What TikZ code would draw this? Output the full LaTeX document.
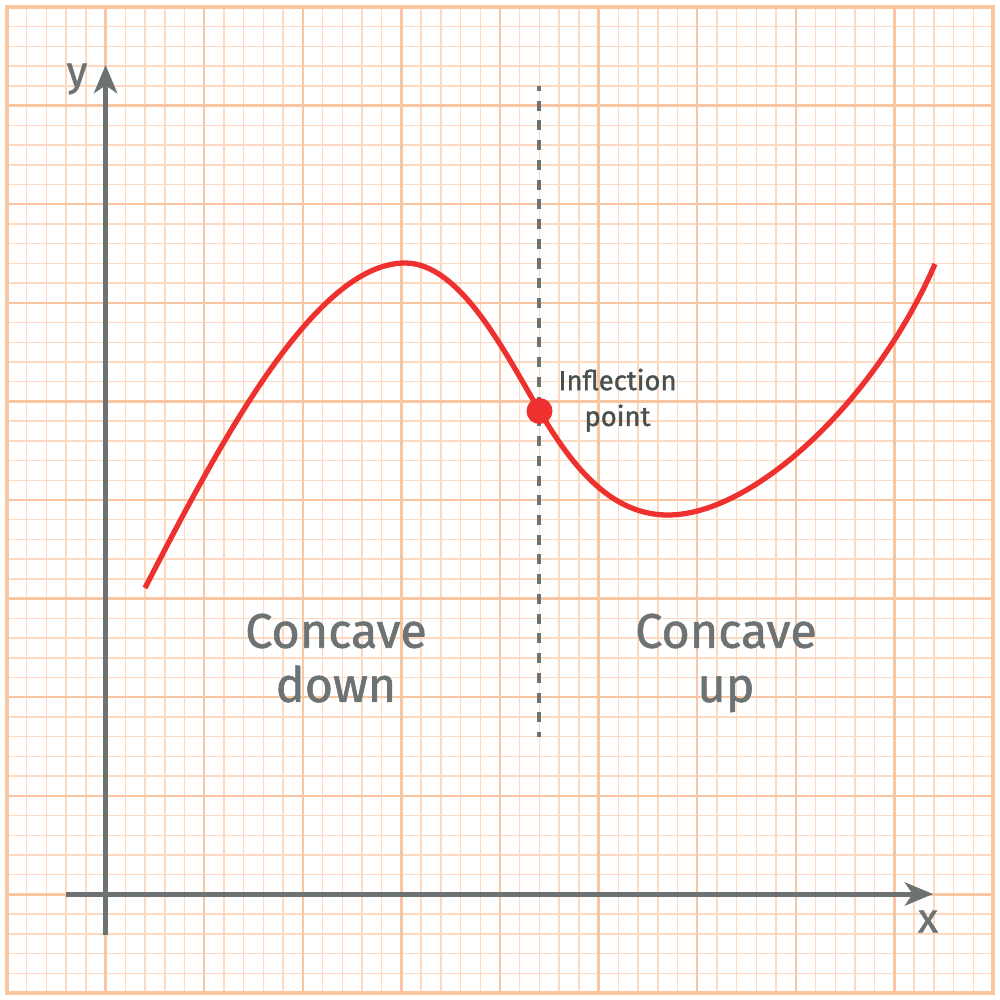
\documentclass[tikz,border=0pt]{standalone}
\usepackage{fontspec}
\setmainfont{Fira Sans}[BoldFont=Fira Sans,BoldFeatures={FakeBold=1.2}]
\usetikzlibrary{arrows.meta}

\definecolor{gridminor}{HTML}{FDD9BF}
\definecolor{gridmajor}{HTML}{F9C6A2}
\definecolor{axisgray}{HTML}{6D7373}
\definecolor{textdark}{HTML}{4A5050}
\definecolor{curvered}{HTML}{EE302F}

\begin{document}
\begin{tikzpicture}[x=0.01cm,y=-0.01cm,
        minorline/.style={gridminor,line width=0.42pt},
        majorline/.style={gridmajor,line width=0.7pt},
        axis/.style={axisgray,line width=1.42pt,-{Stealth[length=8pt,width=6.6pt,inset=2.2pt]}},
        divider/.style={axisgray,line width=1.15pt,dash pattern=on 2.845pt off 2.766pt,dash phase=1.42pt},
        curve/.style={curvered,line width=1.5pt},
        dot/.style={circle,fill=curvered,minimum size=7.4pt,inner sep=0pt},
        axislabel/.style={text=axisgray,inner sep=0pt,font=\fontsize{11.8}{13}\selectfont\bfseries},
        areatext/.style={text=axisgray,align=center,inner sep=0pt,font=\fontsize{13.8}{15.4}\selectfont\bfseries},
        pointtext/.style={text=textdark,align=center,inner sep=0pt,font=\fontsize{7.8}{10.2}\selectfont\bfseries}]
        % Draw background
        \fill[white] (0,0) rectangle (1000,1000);
        \useasboundingbox (0,0) rectangle (1000,1000);

        % Draw grid
        \foreach \i in {0,...,50}
            \draw[minorline] ({7+19.72*\i},7) -- ({7+19.72*\i},993)
                             (7,{7+19.72*\i}) -- (993,{7+19.72*\i});
        \foreach \i in {0,...,10}
            \draw[majorline] ({7+98.6*\i},7) -- ({7+98.6*\i},993)
                             (7,{7+98.6*\i}) -- (993,{7+98.6*\i});
        \draw[majorline][line width=0.9pt] (7,7) rectangle (993,993);

        % Draw dividing line
        \coordinate (dtop) at (539.4,85.9);
        \coordinate (dbot) at (539.4,737);
        \draw[divider] (dtop) -- (dbot);

        % Draw axes
        \coordinate (xstart) at (66,894);
        \coordinate (xend) at (933,894);
        \coordinate (ystart) at (105.6,935);
        \coordinate (yend) at (105.6,65);
        \draw[axis] (xstart) -- (xend);
        \draw[axis] (ystart) -- (yend);
        \node[axislabel] (xlabel) at (928,921.5) {x};
        \node[axislabel] (ylabel) at (77,79) {y};

        % Draw curve
        \draw[curve] (145,588) .. controls (220,442.5) and (315,263) .. (405,263)
            .. controls (460,263) and (504.5,351.5) .. (539.5,411)
            .. controls (574.5,470.5) and (613,515) .. (668,515)
            .. controls (753,515) and (875,402) .. (935,264);

        % Inflection point
        \node[dot] (ip) at (539.5,411) {};
        \node[pointtext,anchor=north] (iptext) at (617.5,368) {Inflection\\point};

        % Add labels
        \node[areatext,anchor=north] (down) at (336,613) {Concave\\down};
        \node[areatext,anchor=north] (up) at (726,613) {Concave\\up};
\end{tikzpicture}
\end{document}
